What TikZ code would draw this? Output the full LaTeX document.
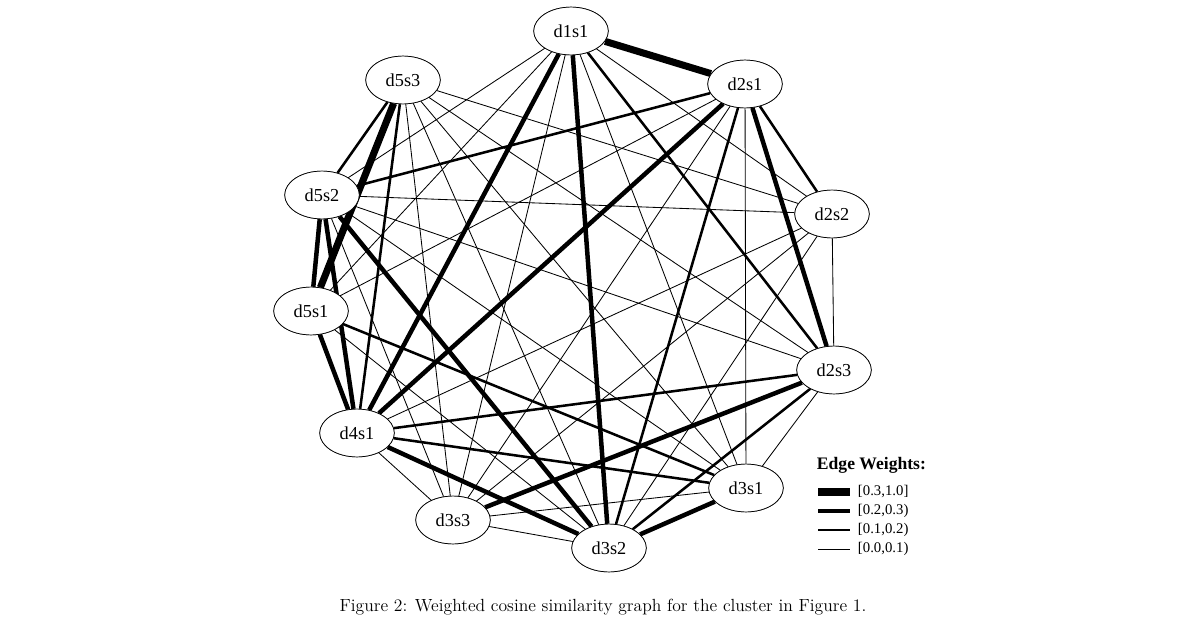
\documentclass[tikz,border=0pt]{standalone}
\usepackage{fontspec}
\newfontfamily\tms{Liberation Serif}
\usetikzlibrary{shapes.geometric}
\begin{document}
\begin{tikzpicture}[x=0.025cm,y=-0.025cm,
  nd/.style={ellipse,draw,line width=0.5pt,fill=white,minimum width=53pt,minimum height=34pt,inner sep=0pt,font=\tms\fontsize{13}{15}\selectfont},
  wa/.style={line width=5pt},wb/.style={line width=3.2pt},wc/.style={line width=1.8pt},wd/.style={line width=0.6pt},
  lg/.style={anchor=west,font=\tms\fontsize{10.5}{12}\selectfont}]
\useasboundingbox (0,0) rectangle (1200,630);
\node[nd] (d1s1) at (571,31) {d1s1};
\node[nd] (d2s1) at (745,84) {d2s1};
\node[nd] (d2s2) at (832,214) {d2s2};
\node[nd] (d2s3) at (834,370) {d2s3};
\node[nd] (d3s1) at (746,488) {d3s1};
\node[nd] (d3s2) at (609,548) {d3s2};
\node[nd] (d3s3) at (453,520) {d3s3};
\node[nd] (d4s1) at (357,433) {d4s1};
\node[nd] (d5s1) at (311,311) {d5s1};
\node[nd] (d5s2) at (322,195) {d5s2};
\node[nd] (d5s3) at (403,80) {d5s3};
\begin{scope}[on background layer/.try]
\foreach \a/\b/\w in {
 d1s1/d2s1/wa, d1s1/d3s2/wb, d1s1/d4s1/wb, d1s1/d2s3/wc, d1s1/d5s2/wd, d1s1/d3s3/wd,
 d1s1/d5s1/wd, d1s1/d2s2/wd, d1s1/d3s1/wd,
 d2s1/d5s2/wc, d2s1/d4s1/wb, d2s1/d2s2/wc, d2s1/d2s3/wb, d2s1/d3s2/wc, d2s1/d3s1/wd,
 d2s1/d3s3/wd, d2s1/d5s1/wd,
 d2s2/d5s2/wd, d2s2/d2s3/wd, d2s2/d4s1/wd, d2s2/d3s3/wd, d2s2/d3s2/wd, d2s2/d5s3/wd,
 d2s3/d4s1/wc, d2s3/d3s3/wb, d2s3/d3s2/wc, d2s3/d3s1/wd, d2s3/d5s3/wd, d2s3/d5s2/wd,
 d3s1/d3s2/wb, d3s1/d4s1/wc, d3s1/d5s1/wc, d3s1/d3s3/wd, d3s1/d5s3/wd, d3s1/d5s2/wd,
 d3s2/d4s1/wb, d3s2/d5s2/wb, d3s2/d3s3/wd, d3s2/d5s3/wd, d3s2/d5s1/wd,
 d3s3/d4s1/wd, d3s3/d5s3/wd, d3s3/d5s2/wd,
 d4s1/d5s1/wb, d4s1/d5s2/wb, d4s1/d5s3/wc,
 d5s1/d5s2/wb, d5s1/d5s3/wa, d5s2/d5s3/wc}
 \draw[\w] (\a) -- (\b);
\end{scope}
\node[nd] at (d1s1) {d1s1};
\node[nd] at (d2s1) {d2s1};
\node[nd] at (d2s2) {d2s2};
\node[nd] at (d2s3) {d2s3};
\node[nd] at (d3s1) {d3s1};
\node[nd] at (d3s2) {d3s2};
\node[nd] at (d3s3) {d3s3};
\node[nd] at (d4s1) {d4s1};
\node[nd] at (d5s1) {d5s1};
\node[nd] at (d5s2) {d5s2};
\node[nd] at (d5s3) {d5s3};
\node[anchor=west,font=\tms\bfseries\fontsize{12.5}{14}\selectfont] (lt) at (812,465) {Edge Weights:};
\coordinate (a1) at (818,492); \coordinate (a2) at (850,492);
\coordinate (b1) at (818,511); \coordinate (b2) at (850,511);
\coordinate (c1) at (818,530); \coordinate (c2) at (850,530);
\coordinate (e1) at (818,549); \coordinate (e2) at (850,549);
\draw[wa] (a1) -- (a2); \draw[wb] (b1) -- (b2); \draw[wc] (c1) -- (c2); \draw[wd] (e1) -- (e2);
\node[lg] (l1) at (853,492) {[0.3,1.0]};
\node[lg] (l2) at (853,511) {[0.2,0.3)};
\node[lg] (l3) at (853,530) {[0.1,0.2)};
\node[lg] (l4) at (853,549) {[0.0,0.1)};
\node[font=\fontsize{12.5}{14}\selectfont] (cap) at (603,607) {Figure 2: Weighted cosine similarity graph for the cluster in Figure 1.};
\end{tikzpicture}
\end{document}
